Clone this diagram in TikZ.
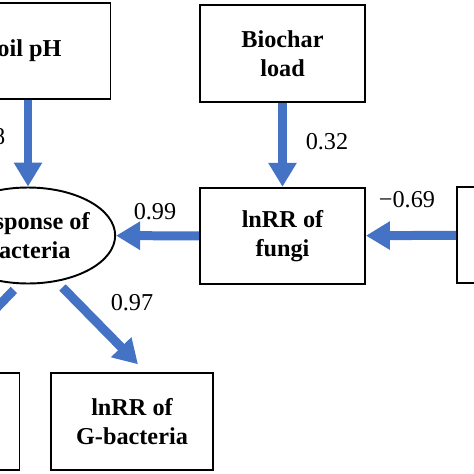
\documentclass[tikz,border=0pt]{standalone}
\usepackage{fontspec}
\setmainfont{Liberation Serif}
\usetikzlibrary{arrows.meta,shapes.geometric,calc}
\definecolor{pathblue}{HTML}{4472C4}

\begin{document}
\begin{tikzpicture}[x=0.02cm,y=-0.02cm,
  font=\fontsize{13.8}{16.8}\selectfont,
  var/.style={draw, line width=1.1pt, minimum width=3.3cm, minimum height=1.93cm, inner sep=0pt, align=center, font=\fontsize{13.8}{16.8}\selectfont\bfseries},
  latent/.style={ellipse, draw, line width=1.1pt, minimum width=3.2cm, minimum height=1.92cm, inner sep=0pt, align=center, font=\fontsize{13.8}{16.8}\selectfont\bfseries},
  flow/.style={draw=pathblue, line width=0.18cm, -{Triangle[length=0.48cm,width=0.54cm]}},
  coef/.style={inner sep=0pt}]
\useasboundingbox (0,0) rectangle (474,474);
\clip (0,0) rectangle (474,474);

% observed variables
\node[var] (soil) at (28,51) {\raisebox{-4pt}{Soil pH}\hspace*{6pt}};
\node[var] (bio) at (282.5,53.5) {Biochar\\load};
\node[var] (fungi) at (282.5,236) {lnRR of\\fungi};
\node[var] (other) at (539.5,235) {};
\node[latent] (resp) at (28,235.5) {Response of\\bacteria};
\node[var, minimum width=3.24cm] (gneg) at (132,421.5) {lnRR of\\G-bacteria};
\node[var, minimum width=3.24cm] (gpos) at (-61.5,421.5) {};

% paths
\draw[flow] (soil) -- (resp);
\draw[flow] (bio) -- (fungi);
\draw[flow] (fungi) -- (resp);
\draw[flow] (other) -- (fungi);
\draw[flow, shorten <=0.16cm] (resp.-58) -- ([shift={(6,-8)}]gneg.north);
\draw[flow, shorten <=0.16cm] (resp.-100) -- ([shift={(4.5,-9)}]gpos.north);

% coefficients
\node[coef] (c1) at (-16,137) {0.58};
\node[coef] (c2) at (327,142) {0.32};
\node[coef] (c3) at (155,212) {0.99};
\node[coef] (c4) at (407,200) {−0.69};
\node[coef] (c5) at (132,303) {0.97};
\end{tikzpicture}
\end{document}
